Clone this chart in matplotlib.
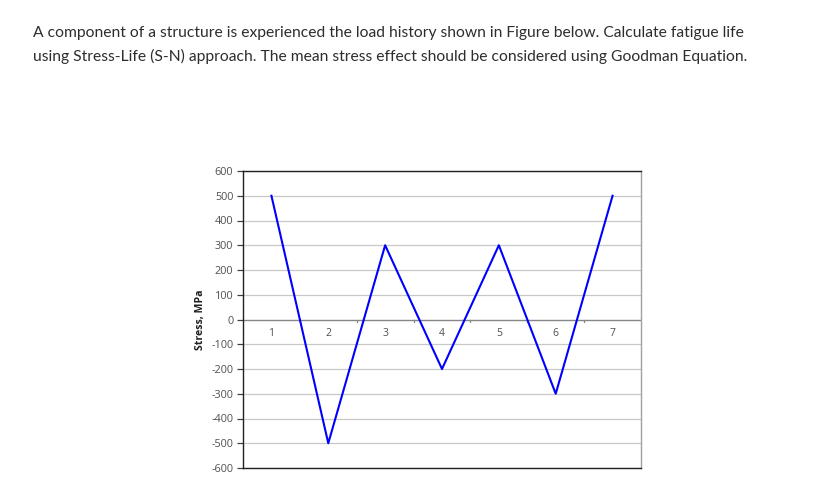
import matplotlib
matplotlib.use("Agg")
import matplotlib.pyplot as plt

# load history (reversal points)
points = [1, 2, 3, 4, 5, 6, 7]
stress = [500, -500, 300, -200, 300, -300, 500]
yticks = list(range(-600, 601, 100))

question = [
    "A component of a structure is experienced the load history shown in Figure below. Calculate fatigue life",
    "using Stress-Life (S-N) approach. The mean stress effect should be considered using Goodman Equation.",
]

W, H = 818, 492
fig = plt.figure(figsize=(W / 100, H / 100), dpi=100, facecolor="white")

for i, line in enumerate(question):
    fig.text(33 / W, 1 - (37 + 24 * i) / H, line, family="Lato", fontsize=11.25,
             color="#2d2d2d", ha="left", va="baseline")

# plot area in pixels: left 243, right 641, top 171, bottom 468
ax = fig.add_axes([243 / W, 1 - 468 / H, (641 - 243) / W, (468 - 171) / H])
ax.set_xlim(0.5, 7.5)
ax.set_ylim(-600, 600)

for v in yticks:
    if v == 0:
        continue
    ax.axhline(v, color="#c8c8c8", lw=0.9, zorder=1)
ax.axhline(0, color="#868686", lw=1.0, zorder=2)

# category boundary ticks on the zero line
for b in [i + 0.5 for i in points[:-1]]:
    ax.plot([b, b], [0, -12], color="#868686", lw=0.9, zorder=2)

ax.plot(points, stress, color="#0000ff", lw=1.5, zorder=3)

for p in points:
    ax.text(p, -55, str(p), ha="center", va="center", fontsize=7.5,
            family="Open Sans", color="#505050")

ax.set_xticks([])
ax.set_yticks(yticks)
ax.set_yticklabels([str(v) for v in yticks], family="Open Sans",
                   fontsize=7.8, color="#505050")
ax.tick_params(axis="y", length=4, width=0.9, color="#404040", pad=3)

for side in ["left", "bottom", "top"]:
    ax.spines[side].set_color("#202020")
    ax.spines[side].set_linewidth(1.0)
ax.spines["right"].set_color("#a0a0a0")
ax.spines["right"].set_linewidth(1.0)

fig.text(201 / W, 1 - 320 / H, "Stress, MPa", rotation=90, ha="center",
         va="center", family="Open Sans", fontweight="bold", fontsize=7.6,
         color="#202020")

fig.savefig("out.png", dpi=100, facecolor="white")
